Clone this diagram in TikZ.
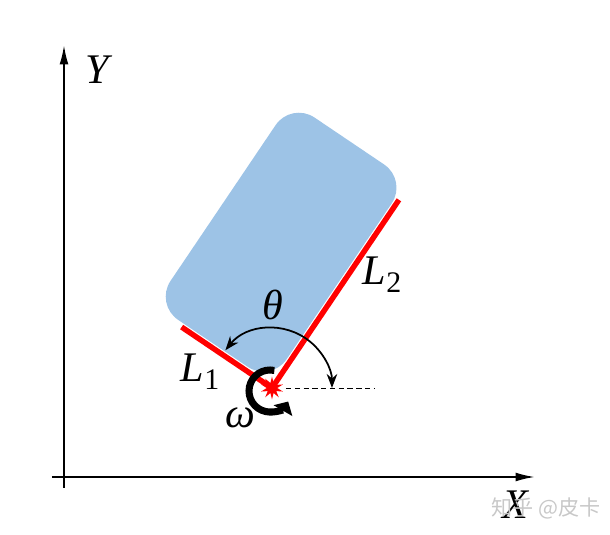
\documentclass[tikz,border=0pt]{standalone}
\usepackage{fontspec}
\setmainfont{Liberation Serif}
\newfontfamily\cjk{Noto Sans CJK SC}
\usetikzlibrary{arrows.meta,shapes.geometric,calc}
\definecolor{BoxBlue}{HTML}{9DC3E6}
\definecolor{LinkRed}{HTML}{FF0000}
\definecolor{MarkGray}{HTML}{C8C8C8}

\begin{document}
\begin{tikzpicture}[x=0.02cm, y=0.02cm,
  axis/.style={line width=1.1pt, -{Latex[length=11pt,width=5pt]}},
  link/.style={LinkRed, line width=3.1pt},
  lbl/.style={font=\fontsize{24}{26}\selectfont\itshape, inner sep=0pt}]
  \useasboundingbox (0,0) rectangle (610,535);

  % axes
  \coordinate (xs) at (52,58);  \coordinate (xe) at (535,58);
  \coordinate (ys) at (64,47);  \coordinate (ye) at (64,490);
  \draw[axis] (xs) -- (xe);
  \draw[axis] (ys) -- (ye);
  \node[lbl] (ylab) at (97,465) {Y};
  \node[lbl] (xlab) at (515,30) {X};

  % body and the two links
  \coordinate (O) at (272,147);
  \begin{scope}[shift={(O)}, rotate=56]
    \fill[BoxBlue, rounded corners=0.56cm] (4,4) rectangle (248,144);
    \coordinate (tipB) at (227,0);
    \coordinate (tipA) at (0,109);
  \end{scope}
  \draw[link] (O) -- (tipB);
  \draw[link] (O) -- (tipA);
  \node[lbl] (l1lab) at (200,163) {L\raisebox{-0.4ex}{\fontsize{17}{19}\selectfont\upshape 1}};
  \node[lbl] (l2lab) at (382,260) {L\raisebox{-0.4ex}{\fontsize{17}{19}\selectfont\upshape 2}};

  % angle
  \coordinate (dend) at (375,147);
  \draw[line width=0.4pt, dash pattern=on 3pt off 2pt] ($(O)+(14,0)$) -- (dend);
  \draw[line width=1pt, {Stealth[length=8pt,width=6pt]}-{Stealth[length=8pt,width=6pt]}]
    ($(O)+(141:1.2cm)$) arc[start angle=141, end angle=0, radius=1.2cm];
  \node[lbl] (thlab) at (273,230) {θ};

  % joint and rotation
  \node[star, star points=10, star point ratio=2.2, fill=LinkRed, minimum size=0.46cm, inner sep=0pt] (joint) at (O) {};
  \draw[line width=4pt, -{Triangle[length=6pt,width=12pt]}]
    ($(O)+(-2,-3)+(78:0.42cm)$) arc[start angle=78, end angle=330, radius=0.42cm];
  \node[lbl] (omlab) at (240,117) {ω};

  \node[font=\cjk\fontsize{12}{14}\selectfont, text=MarkGray] (mark) at (546,27) {知乎 @皮卡};
\end{tikzpicture}
\end{document}
